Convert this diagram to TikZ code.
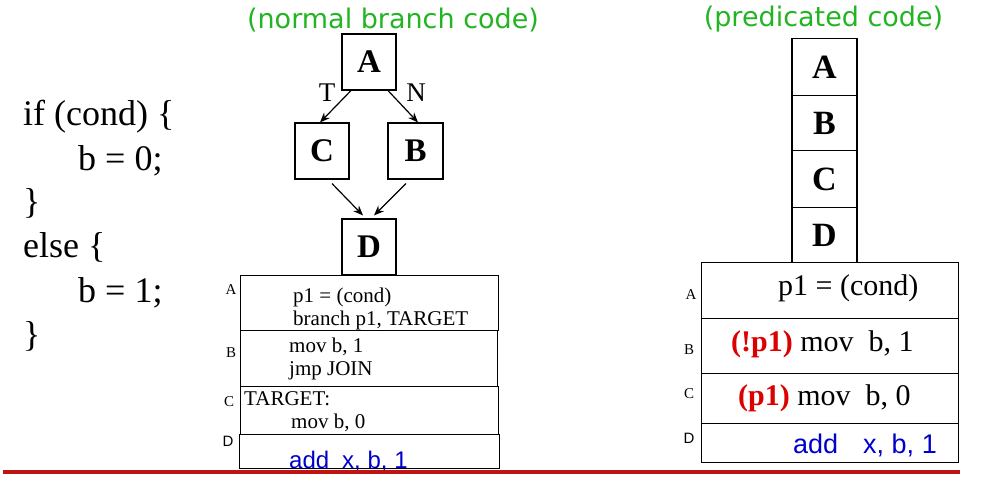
\documentclass[tikz,border=0pt]{standalone}
\usepackage{fontspec}
\setmainfont{Liberation Serif}
\setsansfont{Liberation Sans}
\newfontfamily\titlefont{DejaVu Sans}
\usetikzlibrary{arrows.meta}
\definecolor{tgreen}{RGB}{34,180,34}
\definecolor{cblue}{RGB}{0,0,204}
\definecolor{pred}{RGB}{220,0,0}
\definecolor{lred}{RGB}{190,20,20}
\tikzset{
  title/.style={text=tgreen, font=\titlefont\fontsize{27}{30}\selectfont, inner sep=0pt, anchor=base},
  ccode/.style={font=\fontsize{36}{40}\selectfont, inner sep=0pt, anchor=base west},
  gbox/.style={draw, line width=1.1pt, inner sep=0pt, font=\bfseries\fontsize{33}{36}\selectfont},
  sbox/.style={draw, line width=1.1pt, inner sep=0pt, minimum width=65pt, font=\bfseries\fontsize{34}{37}\selectfont},
  cbox/.style={draw, line width=0.9pt, inner sep=0pt, anchor=north west},
  lbl/.style={font=\fontsize{15}{17}\selectfont, inner sep=0pt},
  slbl/.style={font=\sffamily\fontsize{15}{17}\selectfont, inner sep=0pt},
  asm/.style={font=\fontsize{21}{24}\selectfont, inner sep=0pt, anchor=base west},
  big/.style={font=\fontsize{30}{33}\selectfont, inner sep=0pt, anchor=base west},
  edge/.style={line width=1.2pt, -{Stealth[length=10pt,width=8pt]}},
  tf/.style={font=\fontsize{27}{30}\selectfont, inner sep=0pt},
}
\begin{document}
\begin{tikzpicture}[x=1pt,y=-1pt]
\useasboundingbox (0,0) rectangle (982,477);
% titles
\node[title] (t1) at (393,28) {(normal branch code)};
\node[title] (t2) at (823.5,26) {(predicated code)};
% source code
\node[ccode] (l1) at (23,125) {if (cond) \{};
\node[ccode] (l2) at (78,170) {b = 0;};
\node[ccode] (l3) at (23,213) {\}};
\node[ccode] (l4) at (23,257) {else \{};
\node[ccode] (l5) at (78,302) {b = 1;};
\node[ccode] (l6) at (23,346) {\}};
% control flow graph
\node[gbox, minimum width=54pt, minimum height=56pt] (gA) at (369,62) {A};
\node[gbox, minimum width=54pt, minimum height=56pt] (gC) at (322,151) {C};
\node[gbox, minimum width=55pt, minimum height=56pt] (gB) at (415.5,151) {B};
\node[gbox, minimum width=54pt, minimum height=56pt] (gD) at (369,247) {D};
\draw[edge] ([xshift=-18pt]gA.south) -- ([xshift=-2pt]gC.north);
\draw[edge] ([xshift=19pt]gA.south) -- ([xshift=2.5pt]gB.north);
\draw[edge] ([xshift=10pt,yshift=-4pt]gC.south) -- ([xshift=-6pt,yshift=3pt]gD.north);
\draw[edge] ([xshift=-9.5pt,yshift=-4pt]gB.south) -- ([xshift=5pt,yshift=3pt]gD.north);
\node[tf] (lT) at (327,93) {T};
\node[tf] (lN) at (416,93) {N};
% left code boxes
\node[cbox, minimum width=258pt, minimum height=55pt] (cA) at (240,275) {};
\node[cbox, minimum width=257pt, minimum height=56pt] (cB) at (240,330) {};
\node[cbox, minimum width=258pt, minimum height=48pt] (cC) at (240,386) {};
\node[cbox, minimum width=260pt, minimum height=34pt] (cD) at (239,434) {};
\node[lbl] (kA) at (231,290) {A};
\node[lbl] (kB) at (231,353) {B};
\node[lbl] (kC) at (229,402) {C};
\node[slbl] (kD) at (228,441) {D};
\node[asm] (a1) at (293,302) {p1 = (cond)};
\node[asm] (a2) at (293,325) {branch p1, TARGET};
\node[asm] (b1) at (289,352) {mov b, 1};
\node[asm] (b2) at (289,375) {jmp JOIN};
\node[asm] (c1) at (244,405) {TARGET:};
\node[asm] (c2) at (291,428) {mov b, 0};
\node[asm, font=\sffamily\fontsize{24}{27}\selectfont, text=cblue] (d1) at (289,468) {add\hspace{13pt}x, b, 1};
% predicated stack
\node[sbox, minimum height=57pt, anchor=north] (pA) at (824.5,38) {A};
\node[sbox, minimum height=55pt, anchor=north] (pB) at (824.5,95) {B};
\node[sbox, minimum height=57pt, anchor=north] (pC) at (824.5,150) {C};
\node[sbox, minimum height=55pt, anchor=north] (pD) at (824.5,207) {D};
% right code boxes
\node[cbox, minimum width=257pt, minimum height=56pt] (rA) at (701,262) {};
\node[cbox, minimum width=257pt, minimum height=55pt] (rB) at (701,318) {};
\node[cbox, minimum width=257pt, minimum height=50pt] (rC) at (701,373) {};
\node[cbox, minimum width=257pt, minimum height=39pt] (rD) at (701,423) {};
\node[lbl] (qA) at (691,295) {A};
\node[lbl] (qB) at (689,350) {B};
\node[lbl] (qC) at (689,394) {C};
\node[slbl] (qD) at (689,438) {D};
\node[big] (r1) at (778,295) {p1 = (cond)};
\node[big] (r2) at (731,351) {\textcolor{pred}{\bfseries(!p1)} mov\ \ b, 1};
\node[big] (r3) at (738,405) {\textcolor{pred}{\bfseries(p1)} mov\ \ b, 0};
\node[big, font=\sffamily\fontsize{27}{30}\selectfont, text=cblue] (r4) at (793,453) {add\hspace{25pt}x, b, 1};
% bottom rule
\draw[lred, line width=4pt] (3,472) -- (960,472);
\end{tikzpicture}
\end{document}
